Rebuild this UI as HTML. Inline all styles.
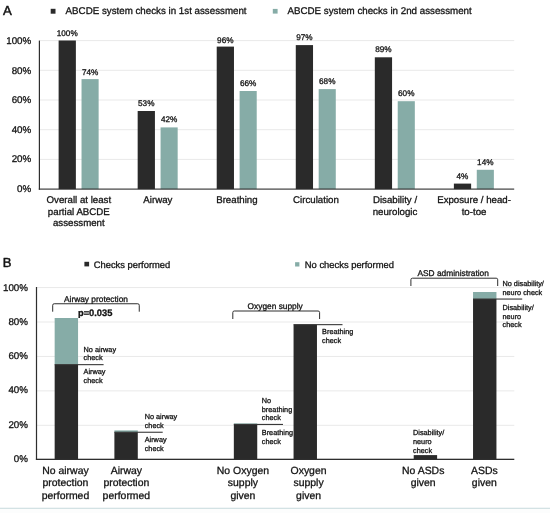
<!DOCTYPE html>
<html lang="en"><head><meta charset="utf-8"><title>Figure</title>
<style>html,body{margin:0;padding:0;background:#fff;}body{width:550px;height:513px;overflow:hidden;}svg{display:block;}</style>
</head><body>
<svg width="550" height="513" viewBox="0 0 550 513" font-family="'Liberation Sans', Arial, sans-serif" text-rendering="geometricPrecision" stroke-linejoin="round">
<rect x="0" y="0" width="550" height="513" fill="#ffffff"/>
<rect x="0" y="509" width="550" height="4" fill="#fcfdfd"/>
<rect x="0" y="507.7" width="550" height="1.3" fill="#d3e2e4"/>
<rect x="39.4" y="158.90" width="474.8" height="1" fill="#e9e9e9"/>
<rect x="39.4" y="129.20" width="474.8" height="1" fill="#e9e9e9"/>
<rect x="39.4" y="99.50" width="474.8" height="1" fill="#e9e9e9"/>
<rect x="39.4" y="69.80" width="474.8" height="1" fill="#e9e9e9"/>
<rect x="39.4" y="40.10" width="474.8" height="1" fill="#e9e9e9"/>
<rect x="58.62" y="40.5" width="17.25" height="148.60" fill="#2a2a2a"/>
<text x="67.22" y="36.00" font-size="8.2" text-anchor="middle" font-weight="normal" fill="#141414" stroke="#141414" stroke-width="0.3">100%</text>
<rect x="81.53" y="79.1" width="17.1" height="110.00" fill="#86aca7"/>
<text x="90.08" y="74.60" font-size="8.2" text-anchor="middle" font-weight="normal" fill="#141414" stroke="#141414" stroke-width="0.3">74%</text>
<rect x="137.67" y="111.0" width="17.25" height="78.10" fill="#2a2a2a"/>
<text x="146.27" y="105.80" font-size="8.2" text-anchor="middle" font-weight="normal" fill="#141414" stroke="#141414" stroke-width="0.3">53%</text>
<rect x="160.57" y="127.4" width="17.1" height="61.70" fill="#86aca7"/>
<text x="169.12" y="122.20" font-size="8.2" text-anchor="middle" font-weight="normal" fill="#141414" stroke="#141414" stroke-width="0.3">42%</text>
<rect x="216.72" y="46.6" width="17.25" height="142.50" fill="#2a2a2a"/>
<text x="225.32" y="42.50" font-size="8.2" text-anchor="middle" font-weight="normal" fill="#141414" stroke="#141414" stroke-width="0.3">96%</text>
<rect x="239.62" y="91.0" width="17.1" height="98.10" fill="#86aca7"/>
<text x="248.17" y="86.10" font-size="8.2" text-anchor="middle" font-weight="normal" fill="#141414" stroke="#141414" stroke-width="0.3">66%</text>
<rect x="295.78" y="45.1" width="17.25" height="144.00" fill="#2a2a2a"/>
<text x="304.38" y="39.80" font-size="8.2" text-anchor="middle" font-weight="normal" fill="#141414" stroke="#141414" stroke-width="0.3">97%</text>
<rect x="318.68" y="89.1" width="17.1" height="100.00" fill="#86aca7"/>
<text x="327.23" y="84.00" font-size="8.2" text-anchor="middle" font-weight="normal" fill="#141414" stroke="#141414" stroke-width="0.3">68%</text>
<rect x="374.82" y="57.3" width="17.25" height="131.80" fill="#2a2a2a"/>
<text x="383.43" y="52.20" font-size="8.2" text-anchor="middle" font-weight="normal" fill="#141414" stroke="#141414" stroke-width="0.3">89%</text>
<rect x="397.72" y="101.2" width="17.1" height="87.90" fill="#86aca7"/>
<text x="406.27" y="96.20" font-size="8.2" text-anchor="middle" font-weight="normal" fill="#141414" stroke="#141414" stroke-width="0.3">60%</text>
<rect x="453.88" y="183.6" width="17.25" height="5.50" fill="#2a2a2a"/>
<text x="462.48" y="178.90" font-size="8.2" text-anchor="middle" font-weight="normal" fill="#141414" stroke="#141414" stroke-width="0.3">4%</text>
<rect x="476.77" y="169.8" width="17.1" height="19.30" fill="#86aca7"/>
<text x="485.32" y="164.90" font-size="8.2" text-anchor="middle" font-weight="normal" fill="#141414" stroke="#141414" stroke-width="0.3">14%</text>
<rect x="38.8" y="40.6" width="1.2" height="149.10" fill="#2e2e2e"/>
<rect x="38.8" y="188.54999999999998" width="475.40" height="1.1" fill="#2e2e2e"/>
<text x="31.2" y="191.75" font-size="9.75" text-anchor="end" font-weight="normal" fill="#141414" stroke="#141414" stroke-width="0.3">0%</text>
<text x="31.2" y="162.21" font-size="9.75" text-anchor="end" font-weight="normal" fill="#141414" stroke="#141414" stroke-width="0.3">20%</text>
<text x="31.2" y="132.67" font-size="9.75" text-anchor="end" font-weight="normal" fill="#141414" stroke="#141414" stroke-width="0.3">40%</text>
<text x="31.2" y="103.13" font-size="9.75" text-anchor="end" font-weight="normal" fill="#141414" stroke="#141414" stroke-width="0.3">60%</text>
<text x="31.2" y="73.59" font-size="9.75" text-anchor="end" font-weight="normal" fill="#141414" stroke="#141414" stroke-width="0.3">80%</text>
<text x="31.2" y="44.05" font-size="9.75" text-anchor="end" font-weight="normal" fill="#141414" stroke="#141414" stroke-width="0.3">100%</text>
<text x="78.83" y="203.40" font-size="9.7" text-anchor="middle" font-weight="normal" fill="#141414" stroke="#141414" stroke-width="0.3">Overall at least</text>
<text x="78.83" y="214.50" font-size="9.7" text-anchor="middle" font-weight="normal" fill="#141414" stroke="#141414" stroke-width="0.3">partial ABCDE</text>
<text x="78.83" y="225.60" font-size="9.7" text-anchor="middle" font-weight="normal" fill="#141414" stroke="#141414" stroke-width="0.3">assessment</text>
<text x="157.87" y="203.40" font-size="9.7" text-anchor="middle" font-weight="normal" fill="#141414" stroke="#141414" stroke-width="0.3">Airway</text>
<text x="236.92" y="203.40" font-size="9.7" text-anchor="middle" font-weight="normal" fill="#141414" stroke="#141414" stroke-width="0.3">Breathing</text>
<text x="315.98" y="203.40" font-size="9.7" text-anchor="middle" font-weight="normal" fill="#141414" stroke="#141414" stroke-width="0.3">Circulation</text>
<text x="395.02" y="203.40" font-size="9.7" text-anchor="middle" font-weight="normal" fill="#141414" stroke="#141414" stroke-width="0.3">Disability /</text>
<text x="395.02" y="214.50" font-size="9.7" text-anchor="middle" font-weight="normal" fill="#141414" stroke="#141414" stroke-width="0.3">neurologic</text>
<text x="474.07" y="203.40" font-size="9.7" text-anchor="middle" font-weight="normal" fill="#141414" stroke="#141414" stroke-width="0.3">Exposure / head-</text>
<text x="474.07" y="214.50" font-size="9.7" text-anchor="middle" font-weight="normal" fill="#141414" stroke="#141414" stroke-width="0.3">to-toe</text>
<text x="2.9" y="15.1" font-size="13.2" text-anchor="start" font-weight="normal" fill="#141414" stroke="#141414" stroke-width="0.5">A</text>
<rect x="50.7" y="8.8" width="4.8" height="4.9" fill="#2a2a2a"/>
<text x="65.6" y="14.0" font-size="9.76" text-anchor="start" font-weight="normal" fill="#141414" stroke="#141414" stroke-width="0.3">ABCDE system checks in 1st assessment</text>
<rect x="272.8" y="8.9" width="4.8" height="4.7" fill="#86aca7"/>
<text x="287.5" y="14.1" font-size="9.76" text-anchor="start" font-weight="normal" fill="#141414" stroke="#141414" stroke-width="0.3">ABCDE system checks in 2nd assessment</text>
<rect x="36.5" y="424.81" width="477.8" height="1" fill="#e9e9e9"/>
<rect x="36.5" y="390.37" width="477.8" height="1" fill="#e9e9e9"/>
<rect x="36.5" y="355.93" width="477.8" height="1" fill="#e9e9e9"/>
<rect x="36.5" y="321.49" width="477.8" height="1" fill="#e9e9e9"/>
<rect x="36.5" y="287.05" width="477.8" height="1" fill="#e9e9e9"/>
<rect x="54.66" y="318.0" width="23.4" height="46.60" fill="#86aca7"/>
<rect x="54.66" y="364.6" width="23.4" height="94.60" fill="#2a2a2a"/>
<rect x="54.66" y="364.10" width="48.94" height="1.1" fill="#383838"/>
<rect x="114.39" y="430.4" width="23.4" height="1.80" fill="#86aca7"/>
<rect x="114.39" y="432.2" width="23.4" height="27.00" fill="#2a2a2a"/>
<rect x="114.39" y="431.70" width="48.31" height="1.1" fill="#383838"/>
<rect x="233.84" y="423.4" width="23.4" height="1.00" fill="#86aca7"/>
<rect x="233.84" y="424.4" width="23.4" height="34.80" fill="#2a2a2a"/>
<rect x="233.84" y="423.90" width="49.16" height="1.1" fill="#383838"/>
<rect x="293.56" y="324.6" width="23.4" height="134.60" fill="#2a2a2a"/>
<rect x="293.56" y="324.10" width="48.94" height="1.1" fill="#383838"/>
<rect x="413.71" y="455.1" width="23.4" height="4.10" fill="#2a2a2a"/>
<rect x="473.04" y="292.0" width="23.4" height="7.00" fill="#86aca7"/>
<rect x="473.04" y="299.0" width="23.4" height="160.20" fill="#2a2a2a"/>
<rect x="473.04" y="298.50" width="49.16" height="1.1" fill="#383838"/>
<rect x="35.9" y="287.0" width="1.2" height="172.80" fill="#2e2e2e"/>
<rect x="35.9" y="458.7" width="478.40" height="1.3" fill="#2e2e2e"/>
<text x="27.9" y="462.05" font-size="9.75" text-anchor="end" font-weight="normal" fill="#141414" stroke="#141414" stroke-width="0.3">0%</text>
<text x="27.9" y="427.75" font-size="9.75" text-anchor="end" font-weight="normal" fill="#141414" stroke="#141414" stroke-width="0.3">20%</text>
<text x="27.9" y="393.45" font-size="9.75" text-anchor="end" font-weight="normal" fill="#141414" stroke="#141414" stroke-width="0.3">40%</text>
<text x="27.9" y="359.15" font-size="9.75" text-anchor="end" font-weight="normal" fill="#141414" stroke="#141414" stroke-width="0.3">60%</text>
<text x="27.9" y="324.85" font-size="9.75" text-anchor="end" font-weight="normal" fill="#141414" stroke="#141414" stroke-width="0.3">80%</text>
<text x="27.9" y="290.55" font-size="9.75" text-anchor="end" font-weight="normal" fill="#141414" stroke="#141414" stroke-width="0.3">100%</text>
<text x="65.46" y="473.50" font-size="10.45" text-anchor="middle" font-weight="normal" fill="#141414" stroke="#141414" stroke-width="0.3">No airway</text>
<text x="65.46" y="486.15" font-size="10.45" text-anchor="middle" font-weight="normal" fill="#141414" stroke="#141414" stroke-width="0.3">protection</text>
<text x="65.46" y="498.80" font-size="10.45" text-anchor="middle" font-weight="normal" fill="#141414" stroke="#141414" stroke-width="0.3">performed</text>
<text x="126.39" y="473.50" font-size="10.45" text-anchor="middle" font-weight="normal" fill="#141414" stroke="#141414" stroke-width="0.3">Airway</text>
<text x="126.39" y="486.15" font-size="10.45" text-anchor="middle" font-weight="normal" fill="#141414" stroke="#141414" stroke-width="0.3">protection</text>
<text x="126.39" y="498.80" font-size="10.45" text-anchor="middle" font-weight="normal" fill="#141414" stroke="#141414" stroke-width="0.3">performed</text>
<text x="242.94" y="473.50" font-size="10.45" text-anchor="middle" font-weight="normal" fill="#141414" stroke="#141414" stroke-width="0.3">No Oxygen</text>
<text x="242.94" y="486.15" font-size="10.45" text-anchor="middle" font-weight="normal" fill="#141414" stroke="#141414" stroke-width="0.3">supply</text>
<text x="242.94" y="498.80" font-size="10.45" text-anchor="middle" font-weight="normal" fill="#141414" stroke="#141414" stroke-width="0.3">given</text>
<text x="308.56" y="473.50" font-size="10.45" text-anchor="middle" font-weight="normal" fill="#141414" stroke="#141414" stroke-width="0.3">Oxygen</text>
<text x="308.56" y="486.15" font-size="10.45" text-anchor="middle" font-weight="normal" fill="#141414" stroke="#141414" stroke-width="0.3">supply</text>
<text x="308.56" y="498.80" font-size="10.45" text-anchor="middle" font-weight="normal" fill="#141414" stroke="#141414" stroke-width="0.3">given</text>
<text x="423.21" y="473.50" font-size="10.45" text-anchor="middle" font-weight="normal" fill="#141414" stroke="#141414" stroke-width="0.3">No ASDs</text>
<text x="423.21" y="486.15" font-size="10.45" text-anchor="middle" font-weight="normal" fill="#141414" stroke="#141414" stroke-width="0.3">given</text>
<text x="484.34" y="473.50" font-size="10.45" text-anchor="middle" font-weight="normal" fill="#141414" stroke="#141414" stroke-width="0.3">ASDs</text>
<text x="484.34" y="486.15" font-size="10.45" text-anchor="middle" font-weight="normal" fill="#141414" stroke="#141414" stroke-width="0.3">given</text>
<path d="M52.7 311.7 V305.25 Q52.7 303.75 54.2 303.75 H137.75 Q139.25 303.75 139.25 305.25 V311.7" fill="none" stroke="#2e2e2e" stroke-width="1.0"/>
<text x="96.0" y="301.75" font-size="8.35" text-anchor="middle" font-weight="normal" fill="#141414" stroke="#141414" stroke-width="0.3">Airway protection</text>
<text x="95.2" y="315.65" font-size="9.3" text-anchor="middle" font-weight="bold" fill="#141414" stroke="#141414" stroke-width="0.3">p=0.035</text>
<path d="M232.8 319.0 V312.5 Q232.8 311.0 234.3 311.0 H318.1 Q319.6 311.0 319.6 312.5 V319.0" fill="none" stroke="#2e2e2e" stroke-width="1.0"/>
<text x="275.2" y="308.5" font-size="8.35" text-anchor="middle" font-weight="normal" fill="#141414" stroke="#141414" stroke-width="0.3">Oxygen supply</text>
<path d="M410.9 286.0 V279.7 Q410.9 278.2 412.4 278.2 H496.2 Q497.7 278.2 497.7 279.7 V286.0" fill="none" stroke="#2e2e2e" stroke-width="1.0"/>
<text x="453.2" y="276.3" font-size="8.35" text-anchor="middle" font-weight="normal" fill="#141414" stroke="#141414" stroke-width="0.3">ASD administration</text>
<text x="83.6" y="351.50" font-size="7.3" text-anchor="start" font-weight="normal" fill="#141414" stroke="#141414" stroke-width="0.3">No airway</text>
<text x="83.6" y="359.80" font-size="7.3" text-anchor="start" font-weight="normal" fill="#141414" stroke="#141414" stroke-width="0.3">check</text>
<text x="83.6" y="374.40" font-size="7.3" text-anchor="start" font-weight="normal" fill="#141414" stroke="#141414" stroke-width="0.3">Airway</text>
<text x="83.6" y="382.70" font-size="7.3" text-anchor="start" font-weight="normal" fill="#141414" stroke="#141414" stroke-width="0.3">check</text>
<text x="144.7" y="419.40" font-size="7.3" text-anchor="start" font-weight="normal" fill="#141414" stroke="#141414" stroke-width="0.3">No airway</text>
<text x="144.7" y="427.70" font-size="7.3" text-anchor="start" font-weight="normal" fill="#141414" stroke="#141414" stroke-width="0.3">check</text>
<text x="144.7" y="442.30" font-size="7.3" text-anchor="start" font-weight="normal" fill="#141414" stroke="#141414" stroke-width="0.3">Airway</text>
<text x="144.7" y="450.60" font-size="7.3" text-anchor="start" font-weight="normal" fill="#141414" stroke="#141414" stroke-width="0.3">check</text>
<text x="261.8" y="403.40" font-size="7.3" text-anchor="start" font-weight="normal" fill="#141414" stroke="#141414" stroke-width="0.3">No</text>
<text x="261.8" y="411.70" font-size="7.3" text-anchor="start" font-weight="normal" fill="#141414" stroke="#141414" stroke-width="0.3">breathing</text>
<text x="261.8" y="420.00" font-size="7.3" text-anchor="start" font-weight="normal" fill="#141414" stroke="#141414" stroke-width="0.3">check</text>
<text x="261.8" y="435.30" font-size="7.3" text-anchor="start" font-weight="normal" fill="#141414" stroke="#141414" stroke-width="0.3">Breathing</text>
<text x="261.8" y="443.60" font-size="7.3" text-anchor="start" font-weight="normal" fill="#141414" stroke="#141414" stroke-width="0.3">check</text>
<text x="322.1" y="334.20" font-size="7.3" text-anchor="start" font-weight="normal" fill="#141414" stroke="#141414" stroke-width="0.3">Breathing</text>
<text x="322.1" y="342.50" font-size="7.3" text-anchor="start" font-weight="normal" fill="#141414" stroke="#141414" stroke-width="0.3">check</text>
<text x="413.0" y="435.30" font-size="7.3" text-anchor="start" font-weight="normal" fill="#141414" stroke="#141414" stroke-width="0.3">Disability/</text>
<text x="413.0" y="443.90" font-size="7.3" text-anchor="start" font-weight="normal" fill="#141414" stroke="#141414" stroke-width="0.3">neuro</text>
<text x="413.0" y="452.50" font-size="7.3" text-anchor="start" font-weight="normal" fill="#141414" stroke="#141414" stroke-width="0.3">check</text>
<text x="502.5" y="286.20" font-size="7.3" text-anchor="start" font-weight="normal" fill="#141414" stroke="#141414" stroke-width="0.3">No disability/</text>
<text x="502.5" y="294.50" font-size="7.3" text-anchor="start" font-weight="normal" fill="#141414" stroke="#141414" stroke-width="0.3">neuro check</text>
<text x="502.5" y="310.10" font-size="7.3" text-anchor="start" font-weight="normal" fill="#141414" stroke="#141414" stroke-width="0.3">Disability/</text>
<text x="502.5" y="318.60" font-size="7.3" text-anchor="start" font-weight="normal" fill="#141414" stroke="#141414" stroke-width="0.3">neuro</text>
<text x="502.5" y="327.10" font-size="7.3" text-anchor="start" font-weight="normal" fill="#141414" stroke="#141414" stroke-width="0.3">check</text>
<text x="2.8" y="267.15" font-size="13.0" text-anchor="start" font-weight="normal" fill="#141414" stroke="#141414" stroke-width="0.5">B</text>
<rect x="84.4" y="261.8" width="4.7" height="4.6" fill="#2a2a2a"/>
<text x="93.7" y="268.0" font-size="9.4" text-anchor="start" font-weight="normal" fill="#141414" stroke="#141414" stroke-width="0.3">Checks performed</text>
<rect x="295.1" y="262.2" width="4.3" height="4.3" fill="#86aca7"/>
<text x="304.8" y="268.0" font-size="9.38" text-anchor="start" font-weight="normal" fill="#141414" stroke="#141414" stroke-width="0.3">No checks performed</text>
</svg>
</body></html>
